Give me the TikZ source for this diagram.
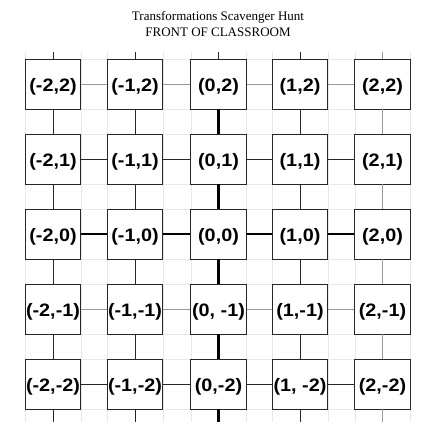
\documentclass[tikz,border=0pt]{standalone}
\usepackage{fontspec}
\setmainfont{Liberation Sans}
\newfontfamily\cellfont[FakeStretch=1.1]{Liberation Sans}
\newfontfamily\titlefont{Liberation Serif}
\begin{document}
\begin{tikzpicture}[x=1pt,y=-1pt,
	cell/.style={draw=black!85,line width=0.9pt,fill=white,minimum width=55.5pt,minimum height=50pt,inner sep=0pt,text height=19pt,text depth=4pt,font=\cellfont\bfseries\fontsize{18}{18}\selectfont},
	gridline/.style={draw=black!9,line width=0.7pt},
	link/.style={draw=black!85,line width=0.9pt},
	faint/.style={draw=black!40,line width=0.9pt},
	axis/.style={draw=black,line width=2.6pt}]
		\useasboundingbox (0,0) rectangle (438,436);
		% title
		\node[anchor=base,font=\titlefont\fontsize{13}{15}\selectfont](title) at (218,21) {Transformations Scavenger Hunt};
		\node[anchor=base,font=\titlefont\fontsize{13}{15}\selectfont](front) at (218,37) {FRONT OF CLASSROOM};
		% table lines
		\foreach \x in {25,81,107,163,191,246,272,328,355,410}
		\draw[gridline] (\x,52) -- (\x,422);
		\foreach \y in {59,109,134,184,209,259,284,334,359,409}
		\draw[gridline] (25,\y) -- (410,\y);
		% boxes
		\node[cell](a11) at (53,84) {(-2,2)};
		\node[cell](a21) at (135,84) {(-1,2)};
		\node[cell](a31) at (218.5,84) {(0,2)};
		\node[cell](a41) at (300,84) {(1,2)};
		\node[cell](a51) at (382.5,84) {(2,2)};
		\node[cell](a12) at (53,159) {(-2,1)};
		\node[cell](a22) at (135,159) {(-1,1)};
		\node[cell](a32) at (218.5,159) {(0,1)};
		\node[cell](a42) at (300,159) {(1,1)};
		\node[cell](a52) at (382.5,159) {(2,1)};
		\node[cell](a13) at (53,234) {(-2,0)};
		\node[cell](a23) at (135,234) {(-1,0)};
		\node[cell](a33) at (218.5,234) {(0,0)};
		\node[cell](a43) at (300,234) {(1,0)};
		\node[cell](a53) at (382.5,234) {(2,0)};
		\node[cell](a14) at (53,309) {(-2,-1)};
		\node[cell](a24) at (135,309) {(-1,-1)};
		\node[cell](a34) at (218.5,309) {(0, -1)};
		\node[cell](a44) at (300,309) {(1,-1)};
		\node[cell](a54) at (382.5,309) {(2,-1)};
		\node[cell](a15) at (53,384) {(-2,-2)};
		\node[cell](a25) at (135,384) {(-1,-2)};
		\node[cell](a35) at (218.5,384) {(0,-2)};
		\node[cell](a45) at (300,384) {(1, -2)};
		\node[cell](a55) at (382.5,384) {(2,-2)};
		% ends of the columns
		\foreach \c in {1,...,5}{
			\coordinate (top\c) at (a\c1.north |- 0,52);
			\coordinate (bot\c) at (a\c5.south |- 0,422);
		}
		% rows
		\foreach \r/\sty in {1/faint,2/link,3/axis,4/faint,5/link}
		\foreach \c/\d in {1/2,2/3,3/4,4/5}
		\draw[\sty] (a\c\r.east) -- (a\d\r.west);
		% columns
		\foreach \c/\sty in {1/link,2/link,3/axis,4/link,5/faint}{
			\foreach \r/\s in {1/2,2/3,3/4,4/5}
			\draw[\sty] (a\c\r.south) -- (a\c\s.north);
			\draw[\sty] (a\c5.south) -- (bot\c);
		}
		\foreach \c/\sty in {1/link,2/link,3/link,4/link,5/faint}
		\draw[\sty] (top\c) -- (a\c1.north);
		
		\end{tikzpicture}
\end{document}
